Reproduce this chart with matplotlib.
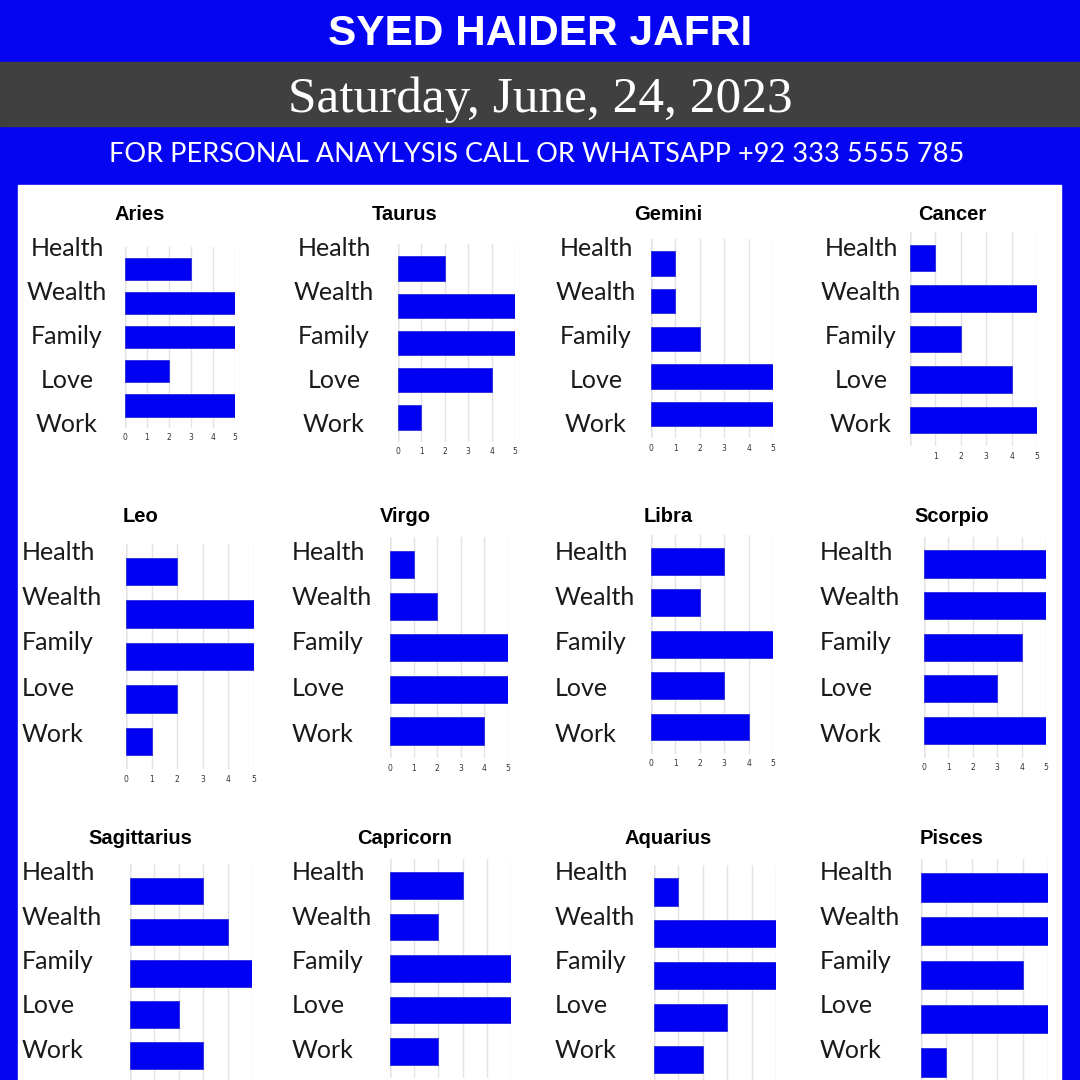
import matplotlib.pyplot as plt
from matplotlib.patches import Rectangle

# ---- data -------------------------------------------------------------
categories = ["Health", "Wealth", "Family", "Love", "Work"]
signs = ["Aries", "Taurus", "Gemini", "Cancer",
         "Leo", "Virgo", "Libra", "Scorpio",
         "Sagittarius", "Capricorn", "Aquarius", "Pisces"]
aries = [3, 5, 5, 2, 5]
taurus = [2, 5, 5, 4, 1]
gemini = [1, 1, 2, 5, 5]
cancer = [1, 5, 2, 4, 5]
leo = [2, 5, 5, 2, 1]
virgo = [1, 2, 5, 5, 4]
libra = [3, 2, 5, 3, 4]
scorpio = [5, 5, 4, 3, 5]
sagittarius = [3, 4, 5, 2, 3]
capricorn = [3, 2, 5, 5, 2]
aquarius = [1, 5, 5, 3, 2]
pisces = [5, 5, 4, 5, 1]
scores = [aries, taurus, gemini, cancer, leo, virgo,
          libra, scorpio, sagittarius, capricorn, aquarius, pisces]
ticks = [0, 1, 2, 3, 4, 5]

title = "SYED HAIDER JAFRI"
date_text = "Saturday, June, 24, 2023"
contact = "FOR PERSONAL ANAYLYSIS CALL OR WHATSAPP +92 333 5555 785"

# ---- layout (pixels on a 1080 canvas) ---------------------------------
W = 1080
BLUE = "#0505f2"
GREY = "#404040"

# x of 0, x of 5, y centre of first bar, y centre of last bar
panels = [
    (125, 235, 269, 405.5), (398, 515, 268.5, 417.5),
    (651, 773, 263.5, 414), (910, 1037, 258, 420),
    (126, 254, 571.5, 741.5), (390, 508, 564.5, 731),
    (651, 773, 561.5, 727), (924, 1046, 564, 730.5),
    (130, 252, 891, 1055.5), (390, 511, 885.5, 1051.5),
    (654, 776, 892, 1059.5), (921, 1048, 887.5, 1062.5),
]
title_x = [140, 405, 668, 952]
title_y = [215, 516, 839]
label_x = [[67, 334, 596, 861], [22, 292, 555, 820], [22, 292, 555, 820]]
label_ha = ["center", "left", "left"]
label_y0 = [249, 552, 873]
label_step = [44, 45.5, 44.3]


def fx(x):
    return x / W


def fy(y):
    return 1 - y / W


fig = plt.figure(figsize=(10.8, 10.8), dpi=100)
fig.patch.set_facecolor(BLUE)

bg = fig.add_axes([0, 0, 1, 1])
bg.set_xlim(0, W)
bg.set_ylim(W, 0)
bg.axis("off")
bg.add_patch(Rectangle((0, 62), W, 64, color=GREY))
bg.add_patch(Rectangle((18, 185), 1043, 900, color="white"))

bg.text(540, 34, title, ha="center", va="center", color="white",
        fontsize=30.5, fontweight="bold", family="Liberation Sans")
bg.text(540, 100, date_text, ha="center", va="center", color="white",
        fontsize=37, family="Liberation Serif")
bg.text(537, 155, contact, ha="center", va="center", color="white",
        fontsize=19.5, family="Lato")

for i, (sign, vals) in enumerate(zip(signs, scores)):
    row, col = divmod(i, 4)
    x0, x5, yh, yw = panels[i]
    step = (yw - yh) / 4
    top = yh - 0.65 * step
    height = 5.3 * step
    ax = fig.add_axes([fx(x0), fy(top + height), fx(x5 - x0), height / W])
    ax.barh(range(len(categories)), vals, height=0.65, color="#0000f5",
            edgecolor="#2a2ad8", linewidth=0.6, zorder=3)
    ax.set_xlim(0, 5)
    ax.set_ylim(4.65, -0.65)
    ax.set_yticks([])
    ax.set_xticks(ticks)
    labels = [str(t) for t in ticks]
    if sign == "Cancer":
        labels[0] = ""
    if row == 2:
        # the bottom row's tick labels fall below the picture
        labels = ["" for _ in ticks]
    ax.set_xticklabels(labels, fontsize=5.5, color="#333333")
    ax.tick_params(axis="x", length=0, pad=4)
    for s in ax.spines.values():
        s.set_visible(False)
    ax.grid(axis="x", color="#e3e3e3", linewidth=1, zorder=0)
    ax.axvline(0, color="#b5b5b5", linewidth=1, zorder=1)
    ax.set_facecolor("white")

    bg.text(title_x[col], title_y[row], sign, ha="center", va="center",
            fontsize=14.5, fontweight="bold", family="Liberation Sans",
            color="black")
    for k, cat in enumerate(categories):
        bg.text(label_x[row][col], label_y0[row] + k * label_step[row], cat,
                ha=label_ha[row], va="center", fontsize=18,
                family="Lato", color="#1a1a1a")

fig.savefig("out.png", dpi=100, facecolor=BLUE)
